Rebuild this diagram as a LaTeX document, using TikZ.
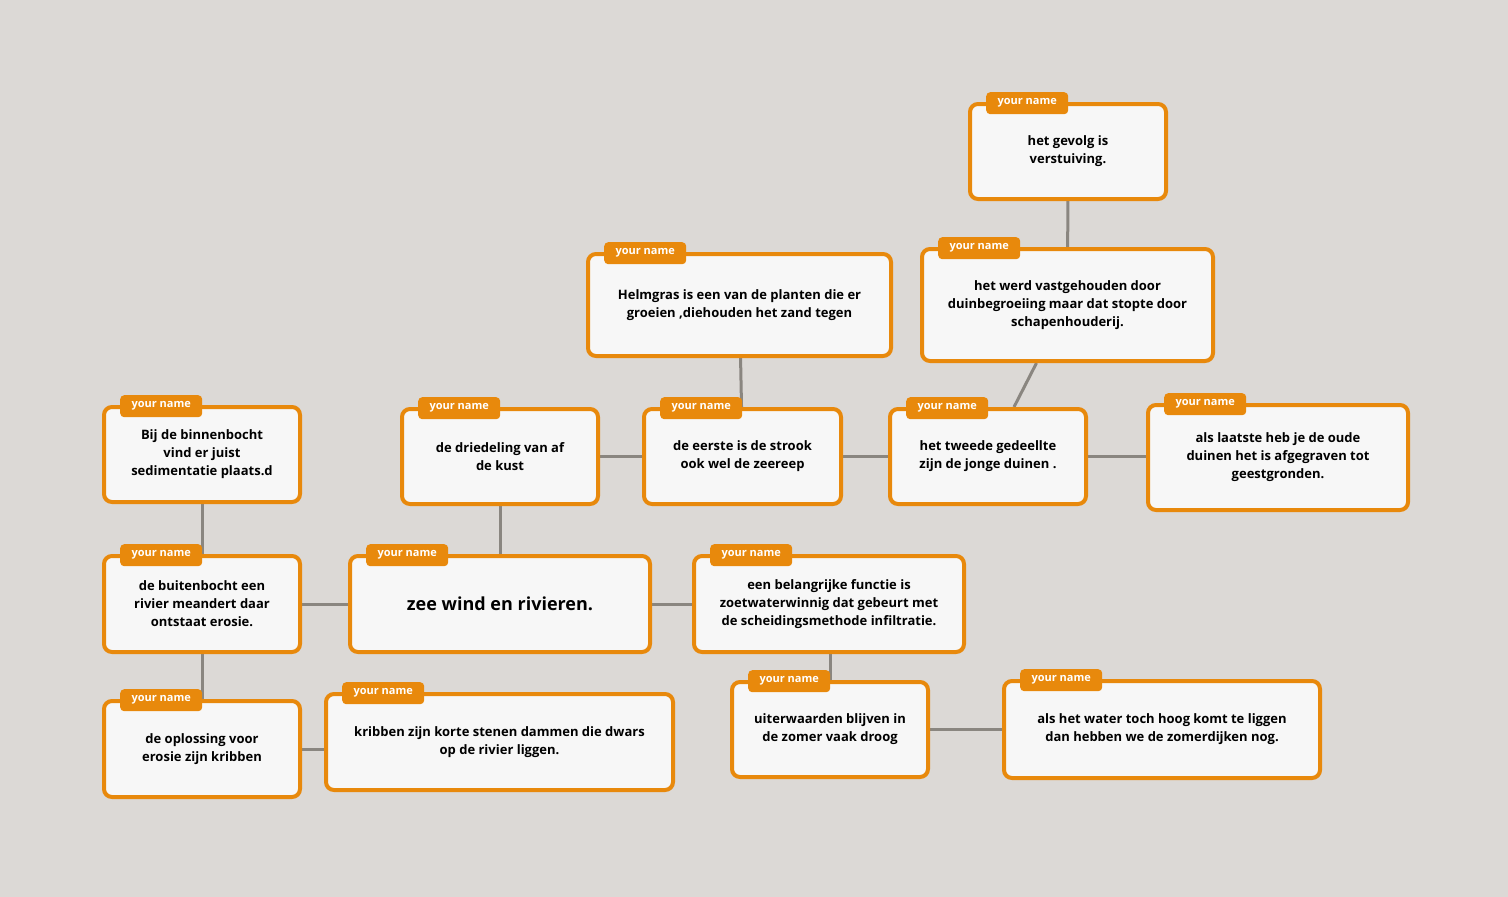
\documentclass[tikz,border=0pt]{standalone}
\usepackage{fontspec}
\setmainfont{Open Sans}
\usetikzlibrary{backgrounds,calc}
\definecolor{org}{HTML}{E8890C}
\definecolor{bgc}{HTML}{DCD9D6}
\definecolor{lnc}{HTML}{8A8680}
\newcommand{\bx}[7][\fontsize{13}{18}\selectfont]{%
  \node[box,minimum width={#5-#3},minimum height={#6-#4},anchor=north west,font=\bfseries#1] (#2) at (#3,#4) {#7};
  \node[tab,anchor=north west] (#2t) at ({#3+18},{#4-10}) {your name};}
\begin{document}
\begin{tikzpicture}[x=1pt,y=-1pt,
  box/.style={draw=org,line width=4pt,rounded corners=8pt,fill=white!97!black,align=center,inner sep=0pt},
  tab/.style={fill=org,rounded corners=4pt,minimum width=82pt,minimum height=22pt,inner sep=0pt,text=white,font=\bfseries\fontsize{11}{12}\selectfont},
  con/.style={draw=lnc,line width=3pt}]
\begin{scope}[on background layer]
\fill[bgc] (0,0) rectangle (1508,897);
\end{scope}
\useasboundingbox (0,0) rectangle (1508,897);
\bx{gev}{968}{102}{1164}{197}{het gevolg is\\verstuiving.}
\bx{werd}{920}{247}{1211}{359}{het werd vastgehouden door\\duinbegroeiing maar dat stopte door\\schapenhouderij.}
\bx{helm}{586}{252}{889}{354}{Helmgras is een van de planten die er\\groeien ,diehouden het zand tegen}
\bx{bij}{102}{405}{298}{500}{Bij de binnenbocht\\vind er juist\\sedimentatie plaats.d}
\bx{drie}{400}{407}{596}{502}{de driedeling van af\\de kust}
\bx{eer}{642}{407}{839}{502}{de eerste is de strook\\ook wel de zeereep}
\bx{twee}{888}{407}{1084}{502}{het tweede gedeellte\\zijn de jonge duinen .}
\bx{laat}{1146}{403}{1406}{508}{als laatste heb je de oude\\duinen het is afgegraven tot\\geestgronden.}
\bx[\fontsize{18}{22}\selectfont]{zee}{348}{554}{648}{650}{zee wind en rivieren.}
\bx{buit}{102}{554}{298}{650}{de buitenbocht een\\rivier meandert daar\\ontstaat erosie.}
\bx{bel}{692}{554}{962}{650}{een belangrijke functie is\\zoetwaterwinnig dat gebeurt met\\de scheidingsmethode infiltratie.}
\bx{opl}{102}{699}{298}{795}{de oplossing voor\\erosie zijn kribben}
\bx{krib}{324}{692}{671}{788}{kribben zijn korte stenen dammen die dwars\\op de rivier liggen.}
\bx{uit}{730}{680}{926}{775}{uiterwaarden blijven in\\de zomer vaak droog}
\bx{wat}{1002}{679}{1318}{776}{als het water toch hoog komt te liggen\\dan hebben we de zomerdijken nog.}
\begin{scope}[on background layer]
\draw[con] (gev) -- (werd);
\draw[con] ($(werd.south)+(-31,0)$) -- ($(twee.north)+(26,0)$);
\draw[con] (helm) -- (eer);
\draw[con] (bij) -- (buit);
\draw[con] (drie) -- (eer);
\draw[con] (eer) -- (twee);
\draw[con] (twee) -- (laat.west |- twee);
\draw[con] (drie) -- (zee);
\draw[con] (buit) -- (zee);
\draw[con] (zee) -- (bel.west |- zee);
\draw[con] (buit) -- (opl);
\draw[con] (opl.east) -- (krib.west |- opl.east);
\draw[con] (bel.south -| uit) -- (uit);
\draw[con] (uit) -- (wat.west |- uit);
\end{scope}
\end{tikzpicture}
\end{document}
